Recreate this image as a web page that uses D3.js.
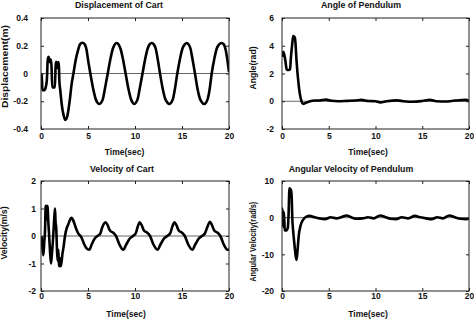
<!DOCTYPE html>
<html><head><meta charset="utf-8">
<script src="https://cdn.jsdelivr.net/npm/d3@7"></script>
<style>html,body{margin:0;padding:0;background:#fff;} svg{display:block;}</style>
</head><body>
<svg id="chart" width="474" height="321"></svg>
<script>
// ---------- data ----------
const timeTicks = [0, 5, 10, 15, 20];
const timeTickLabels = ["0", "5", "10", "15", "20"];
const xLabel = "Time(sec)";

const titles = ["Displacement of Cart", "Angle of Pendulum", "Velocity of Cart", "Angular Velocity of Pendulum"];
const yLabels = ["Displacement(m)", "Angle(rad)", "Velocity(m/s)", "Angular Velocity(rad/s)"];

const dispTime = [0,0.08,0.15,0.35,0.5,0.62,0.72,0.8,0.9,0.97,
  1.05,1.12,1.2,1.35,1.48,1.55,1.6,1.7,1.75,1.82,
  1.9,1.95,2.05,2.2,2.4,2.6,2.75,2.9,3.1,3.25,
  3.45,3.7,3.95,4.15,4.4,4.65,4.85,5.0,5.25,5.55,
  5.8,6.0,6.2,6.4,6.6,6.8,7.1,7.4,7.65,7.85,
  8.05,8.25,8.45,8.7,9.0,9.3,9.55,9.75,9.92,10.1,
  10.3,10.5,10.8,11.1,11.35,11.55,11.78,12.0,12.2,12.4,
  12.66,12.95,13.2,13.45,13.65,13.85,14.05,14.25,14.5,14.8,
  15.05,15.3,15.5,15.7,15.9,16.1,16.38,16.65,16.9,17.15,
  17.34,17.55,17.75,17.95,18.16,18.45,18.7,18.95,19.22,19.45,
  19.65,19.8,20];
const dispValue = [0,-0.02,-0.12,-0.12,-0.1,-0.05,0.1,0.12,0.1,0.08,
  0.1,0.05,-0.1,-0.1,-0.1,0.05,0.085,0.07,0.04,0.08,
  0.08,-0.05,-0.12,-0.22,-0.3,-0.335,-0.32,-0.27,-0.17,-0.08,
  0,0.1,0.17,0.21,0.222,0.21,0.17,0.1,0,-0.11,
  -0.18,-0.21,-0.22,-0.21,-0.18,-0.11,0,0.11,0.18,0.21,
  0.22,0.21,0.18,0.11,0,-0.11,-0.18,-0.21,-0.22,-0.21,
  -0.18,-0.11,0,0.11,0.18,0.21,0.22,0.21,0.18,0.11,
  0,-0.11,-0.18,-0.21,-0.22,-0.21,-0.18,-0.11,0,0.11,
  0.18,0.21,0.22,0.21,0.18,0.11,0,-0.11,-0.18,-0.21,
  -0.22,-0.21,-0.18,-0.11,0,0.11,0.18,0.21,0.22,0.21,
  0.17,0.11,0.01];
const dispTicks = [-0.4, -0.2, 0, 0.2, 0.4];
const dispTickLabels = ["-0.4", "-0.2", "0", "0.2", "0.4"];

const angleTime = [0,0.15,0.35,0.5,0.7,0.86,0.96,1.1,1.2,1.37,
  1.44,1.55,1.73,1.9,2.1,2.25,2.6,3.0,3.5,4.0,
  4.7,5.3,6.0,7.0,7.8,8.5,9.2,10.0,10.5,11.2,
  12.3,13.0,14.0,15.0,15.8,16.5,17.5,18.5,19.7,20];
const angleValue = [3.2,3.57,2.97,2.3,2.25,2.3,3.2,4.17,4.7,4.6,
  4.2,2.97,1.53,0.57,-0.03,-0.2,-0.1,0.0,0.05,0.05,
  0.12,0.03,0.0,0.03,0.05,0.1,0.02,0.0,-0.08,0.0,
  0.06,0.0,-0.04,0.02,0.1,0.0,-0.02,0.05,0.1,0.0];
const angleTicks = [-2, 0, 2, 4, 6];
const angleTickLabels = ["-2", "0", "2", "4", "6"];

const velTime = [0,0.05,0.1,0.15,0.25,0.35,0.43,0.5,0.57,0.63,
  0.7,0.78,0.85,0.95,1.06,1.15,1.3,1.4,1.49,1.55,
  1.62,1.7,1.77,1.85,1.91,2.0,2.1,2.2,2.3,2.4,
  2.55,2.75,2.9,3.1,3.26,3.45,3.7,3.95,4.3,4.6,
  4.85,5.14,5.4,5.7,6.0,6.3,6.5,6.7,6.88,7.08,
  7.33,7.68,7.98,8.33,8.76,9.08,9.43,9.78,10.08,10.3,
  10.5,10.7,10.95,11.3,11.6,11.95,12.4,12.72,13.07,13.42,
  13.75,13.98,14.2,14.4,14.65,15.0,15.3,15.65,16.1,16.42,
  16.77,17.12,17.45,17.72,17.98,18.18,18.43,18.78,19.08,19.43,
  19.85,20];
const velValue = [0,-0.3,-0.05,-0.4,-0.7,-0.2,0.2,1.1,0.6,1.1,
  1.05,0.5,0.1,-0.5,-1.0,-0.7,0.0,0.6,1.0,0.5,
  0.3,-0.5,-0.9,-0.5,-1.1,-0.8,-1.1,-0.9,-0.6,-0.4,
  0.0,0.3,0.42,0.6,0.66,0.55,0.3,0.1,-0.05,-0.3,
  -0.45,-0.5,-0.3,-0.1,0.0,0.08,0.3,0.45,0.5,0.4,
  0.2,0.12,0.0,-0.3,-0.5,-0.3,-0.1,0.0,0.1,0.35,
  0.5,0.4,0.2,0.12,0.0,-0.3,-0.5,-0.3,-0.1,0.0,
  0.1,0.35,0.5,0.4,0.2,0.12,0.0,-0.3,-0.5,-0.3,
  -0.1,0.0,0.1,0.35,0.52,0.4,0.2,0.12,0.0,-0.3,
  -0.5,-0.5];
const velTicks = [-2, -1, 0, 1, 2];
const velTickLabels = ["-2", "-1", "0", "1", "2"];

const angVelTime = [0,0.05,0.12,0.2,0.3,0.4,0.5,0.62,0.7,0.8,
  0.88,0.97,1.04,1.1,1.2,1.3,1.45,1.55,1.65,1.8,
  2.0,2.25,2.6,2.96,3.5,4.0,4.6,5.2,5.8,6.4,
  6.9,7.5,8.0,8.6,9.2,9.8,10.5,11.1,11.6,12.2,
  12.8,13.5,14.2,14.8,15.4,16.0,16.6,17.2,17.9,18.5,
  19.1,19.7,20];
const angVelValue = [0,2.5,-2.5,1.5,-3.4,-3.5,-3.4,-2.8,0.7,8,
  7.8,7.5,5.3,0,-3.8,-6.5,-10.2,-11.5,-9.3,-4.7,
  -2,-0.6,0.3,0.5,0.1,-0.2,-0.4,0.1,-0.2,0.2,
  0.6,0.0,-0.3,-0.2,0.1,-0.2,0.6,0.1,-0.3,-0.4,
  0.1,-0.2,0.5,0.1,-0.2,-0.4,0.1,-0.2,0.6,0.1,
  -0.3,-0.4,-0.3];
const angVelTicks = [-20, -10, 0, 10];
const angVelTickLabels = ["-20", "-10", "0", "10"];

// ---------- layout ----------
const FONT = "'Liberation Sans', Arial, Helvetica, sans-serif";
const panels = [
  {t: dispTime, v: dispValue, ticks: dispTicks, labels: dispTickLabels, dom: [-0.4, 0.4],
   L: 41, R: 229, T: 18, B: 129, titleX: 119, titleY: 7.5, xlabX: 124.5, xlabY: 154.5,
   ylabX: 5, ylabY: 66.5, ylabLen: 83, yPad: 13, xPad: 4},
  {t: angleTime, v: angleValue, ticks: angleTicks, labels: angleTickLabels, dom: [-2, 6],
   L: 282, R: 469, T: 18, B: 129, titleX: 361, titleY: 7.5, xlabX: 368, xlabY: 154.5,
   ylabX: 253, ylabY: 68, ylabLen: 43, yPad: 8, xPad: 4},
  {t: velTime, v: velValue, ticks: velTicks, labels: velTickLabels, dom: [-2, 2],
   L: 41, R: 229, T: 181, B: 291, titleX: 122, titleY: 171.5, xlabX: 126, xlabY: 317,
   ylabX: 4.5, ylabY: 233, ylabLen: 53, yPad: 5, xPad: 2},
  {t: angVelTime, v: angVelValue, ticks: angVelTicks, labels: angVelTickLabels, dom: [-20, 10],
   L: 282, R: 469, T: 181, B: 291, titleX: 351, titleY: 171.5, xlabX: 368, xlabY: 317,
   ylabX: 253, ylabY: 241.7, ylabLen: 80, yPad: 8, xPad: 2}
];

const svg = d3.select("#chart");
svg.append("rect").attr("width", 474).attr("height", 321).attr("fill", "#fff");

panels.forEach((p, i) => {
  const x = d3.scaleLinear().domain([0, 20]).range([p.L, p.R]);
  const y = d3.scaleLinear().domain(p.dom).range([p.B, p.T]);
  const g = svg.append("g");

  // clip
  const cid = "clip" + i;
  svg.append("clipPath").attr("id", cid).append("rect")
    .attr("x", p.L).attr("y", p.T).attr("width", p.R - p.L).attr("height", p.B - p.T);

  // zero line
  g.append("line").attr("x1", p.L).attr("x2", p.R).attr("y1", y(0)).attr("y2", y(0))
    .attr("stroke", "#555").attr("stroke-width", 0.9);

  // data line
  const pts = p.t.map((tt, k) => [tt, p.v[k]]);
  const line = d3.line().x(d => x(d[0])).y(d => y(d[1])).curve(d3.curveMonotoneX);
  g.append("path").attr("d", line(pts)).attr("fill", "none").attr("stroke", "#000")
    .attr("stroke-width", 2.6).attr("stroke-linejoin", "round").attr("clip-path", `url(#${cid})`);

  // axes
  const fmtX = (d, k) => timeTickLabels[k];
  const fmtY = (d, k) => p.labels[k];
  const styleAxis = sel => {
    sel.select(".domain").remove();
    sel.selectAll(".tick line").attr("stroke", "#222").attr("stroke-width", 1);
    sel.selectAll("text").attr("font-family", FONT).attr("font-size", 8.5)
      .attr("font-weight", "bold").attr("fill", "#111");
  };
  g.append("g").attr("transform", `translate(0,${p.B})`)
    .call(d3.axisBottom(x).tickValues(timeTicks).tickFormat(fmtX).tickSizeInner(-3).tickSizeOuter(0).tickPadding(p.xPad))
    .call(styleAxis);
  g.append("g").attr("transform", `translate(0,${p.T})`)
    .call(d3.axisTop(x).tickValues(timeTicks).tickFormat("").tickSizeInner(-3).tickSizeOuter(0))
    .call(styleAxis);
  g.append("g").attr("transform", `translate(${p.L},0)`)
    .call(d3.axisLeft(y).tickValues(p.ticks).tickFormat(fmtY).tickSizeInner(-3).tickSizeOuter(0).tickPadding(p.yPad))
    .call(styleAxis);
  g.append("g").attr("transform", `translate(${p.R},0)`)
    .call(d3.axisRight(y).tickValues(p.ticks).tickFormat("").tickSizeInner(-3).tickSizeOuter(0))
    .call(styleAxis);

  // frame
  g.append("rect").attr("x", p.L).attr("y", p.T).attr("width", p.R - p.L).attr("height", p.B - p.T)
    .attr("fill", "none").attr("stroke", "#222").attr("stroke-width", 1);

  // title
  g.append("text").attr("x", p.titleX).attr("y", p.titleY).attr("text-anchor", "middle")
    .attr("font-family", FONT).attr("font-size", 8.8).attr("font-weight", "bold").attr("fill", "#111")
    .text(titles[i]);
  // x label
  g.append("text").attr("x", p.xlabX).attr("y", p.xlabY).attr("text-anchor", "middle")
    .attr("font-family", FONT).attr("font-size", 8.5).attr("font-weight", "bold").attr("fill", "#111")
    .text(xLabel);
  // y label
  g.append("text").attr("transform", `translate(${p.ylabX},${p.ylabY}) rotate(-90)`)
    .attr("text-anchor", "middle").attr("dy", "0.35em")
    .attr("font-family", FONT).attr("font-size", 8.5).attr("font-weight", "bold").attr("fill", "#111")
    .attr("textLength", p.ylabLen).attr("lengthAdjust", "spacingAndGlyphs")
    .text(yLabels[i]);
});
</script>
</body></html>
